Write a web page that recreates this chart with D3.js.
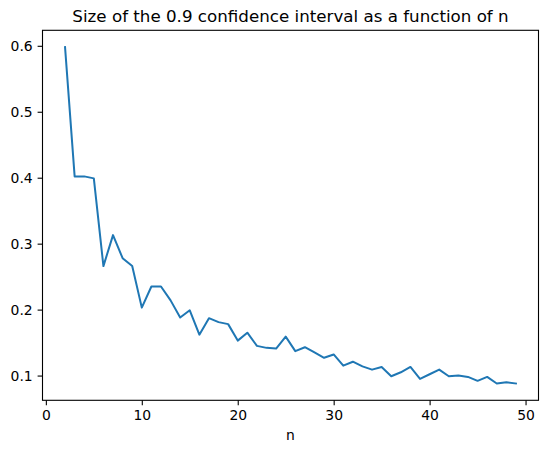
<!DOCTYPE html>
<html>
<head>
<meta charset="utf-8">
<script src="https://cdn.jsdelivr.net/npm/d3@7"></script>
<style>
  html, body { margin: 0; padding: 0; background: #fff; }
  svg { display: block; font-family: "DejaVu Sans", sans-serif; }
</style>
</head>
<body>
<svg id="chart" width="547" height="453"></svg>
<script>
const title = "Size of the 0.9 confidence interval as a function of n";
const xLabel = "n";
const nValues = [2,3,4,5,6,7,8,9,10,11,12,13,14,15,16,17,18,19,20,21,22,23,24,25,26,27,28,29,30,31,32,33,34,35,36,37,38,39,40,41,42,43,44,45,46,47,48,49];
const widths = [0.598,0.402,0.402,0.399,0.266,0.313,0.278,0.266,0.203,0.235,0.235,0.214,0.188,0.199,0.162,0.187,0.181,0.178,0.153,0.165,0.145,0.142,0.141,0.159,0.137,0.143,0.135,0.127,0.132,0.115,0.121,0.114,0.109,0.113,0.099,0.105,0.113,0.095,0.102,0.109,0.099,0.100,0.098,0.092,0.098,0.088,0.090,0.088];
const xTicks = [0,10,20,30,40,50];
const yTicks = [0.1,0.2,0.3,0.4,0.5,0.6];

const svg = d3.select("#chart");
const L = 42.5, R = 538.5, T = 30.3, B = 400.3;

const xMin = d3.min(nValues), xMax = d3.max(nValues);
const xPad = (xMax - xMin) * 0.05;
const yMin = d3.min(widths), yMax = d3.max(widths);
const yPad = (yMax - yMin) * 0.05;

const x = d3.scaleLinear().domain([xMin - xPad, xMax + xPad]).range([L, R]);
const y = d3.scaleLinear().domain([yMin - yPad, yMax + yPad]).range([B, T]);

const line = d3.line().x((d, i) => x(nValues[i])).y(d => y(d));
svg.append("path")
  .datum(widths)
  .attr("d", line)
  .attr("fill", "none")
  .attr("stroke", "#1f77b4")
  .attr("stroke-width", 2.0)
  .attr("stroke-linejoin", "round")
  .attr("stroke-linecap", "square");

const xAxis = d3.axisBottom(x).tickValues(xTicks).tickFormat(d3.format("d")).tickSize(4.9).tickPadding(5.2);
const gx = svg.append("g").attr("transform", `translate(0,${B})`).call(xAxis);
const yAxis = d3.axisLeft(y).tickValues(yTicks).tickFormat(d3.format(".1f")).tickSize(4.9).tickPadding(4.9);
const gy = svg.append("g").attr("transform", `translate(${L},0)`).call(yAxis);

[gx, gy].forEach(g => {
  g.select(".domain").remove();
  g.selectAll(".tick line").attr("stroke", "#000").attr("stroke-width", 1.1);
  g.selectAll(".tick text").attr("fill", "#000").style("font-size", "13.9px").style("font-family", "DejaVu Sans, sans-serif");
});

svg.append("rect")
  .attr("x", L).attr("y", T)
  .attr("width", R - L).attr("height", B - T)
  .attr("fill", "none").attr("stroke", "#000").attr("stroke-width", 1.1);

svg.append("text")
  .attr("x", (L + R) / 2).attr("y", 22)
  .attr("text-anchor", "middle")
  .style("font-size", "16.7px")
  .attr("fill", "#000")
  .text(title);

svg.append("text")
  .attr("x", (L + R) / 2).attr("y", 440)
  .attr("text-anchor", "middle")
  .style("font-size", "13.9px")
  .attr("fill", "#000")
  .text(xLabel);
</script>
</body>
</html>
